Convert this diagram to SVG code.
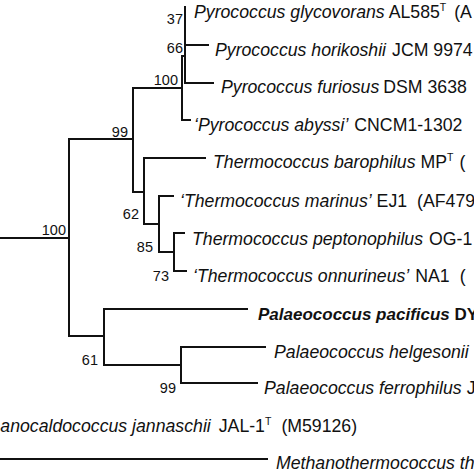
<svg xmlns="http://www.w3.org/2000/svg" width="474" height="474" viewBox="0 0 474 474">
<style>
.t{font-family:"Liberation Sans",Arial,sans-serif;font-size:17.7px;fill:#111}
.i{font-style:italic}
.b{font-weight:bold;font-size:17px}
.s{font-size:10.5px}
.n{font-family:"Liberation Sans",Arial,sans-serif;font-size:14.5px;fill:#111;text-anchor:end}
.e{stroke:#111;stroke-width:2;fill:none;stroke-linecap:square}
</style>
<rect width="474" height="474" fill="#fff"/>
<g id="connectors" class="e">
<path d="M0 238H69M69 139V336M69 139H133M133 88V192M133 88H182M182 56V120M182 56H185M185 7V83M185 45H208M185 83H213M182 120H190"/>
<path d="M133 192H144M144 158V224M144 158H205M144 224H159M159 196V252M159 196H173M159 252H174M174 233V271M174 233H184M174 271H186"/>
<path d="M69 336H104M104 309V365M104 309H247M104 365H181M181 347V383M181 347H265M181 383H257"/>
<path d="M0 459H267"/>
</g>
<g id="bootstrap">
<text class="n" x="183" y="24">37</text>
<text class="n" x="183" y="53">66</text>
<text class="n" x="178" y="85">100</text>
<text class="n" x="128" y="137">99</text>
<text class="n" x="139" y="219">62</text>
<text class="n" x="66" y="235">100</text>
<text class="n" x="153" y="252">85</text>
<text class="n" x="169" y="281">73</text>
<text class="n" x="98" y="365">61</text>
<text class="n" x="176" y="393">99</text>
</g>
<g id="n-glycovorans"><text class="t" x="194" y="18"><tspan class="i">Pyrococcus glycovorans</tspan> AL585<tspan class="s" dy="-7">T</tspan><tspan dx="8" dy="7">(A</tspan></text></g>
<g id="n-horikoshii"><text class="t" x="215" y="56"><tspan class="i">Pyrococcus horikoshii</tspan><tspan dx="6">JCM 9974</tspan></text></g>
<g id="n-furiosus"><text class="t" x="221" y="93"><tspan class="i">Pyrococcus furiosus</tspan><tspan dx="4">DSM 3638</tspan></text></g>
<g id="n-abyssi"><text class="t" x="194" y="131"><tspan class="i">‘Pyrococcus abyssi’</tspan><tspan dx="6">CNCM1-1302</tspan></text></g>
<g id="n-barophilus"><text class="t" x="213" y="168"><tspan class="i">Thermococcus barophilus</tspan><tspan dx="5">MP</tspan><tspan class="s" dy="-7">T</tspan><tspan dx="6" dy="7">(</tspan></text></g>
<g id="n-marinus"><text class="t" x="180" y="207"><tspan class="i">‘Thermococcus marinus’</tspan> EJ1<tspan dx="10">(AF479</tspan></text></g>
<g id="n-peptonophilus"><text class="t" x="192" y="245"><tspan class="i">Thermococcus peptonophilus</tspan><tspan dx="6">OG-1</tspan></text></g>
<g id="n-onnurineus"><text class="t" x="193" y="282"><tspan class="i">‘Thermococcus onnurineus’</tspan><tspan dx="6">NA1</tspan><tspan dx="10">(</tspan></text></g>
<g id="n-pacificus"><text class="t b" x="258" y="320"><tspan class="i">Palaeococcus pacificus</tspan> DY</text></g>
<g id="n-helgesonii"><text class="t" x="274" y="358"><tspan class="i">Palaeococcus helgesonii</tspan></text></g>
<g id="n-ferrophilus"><text class="t" x="264" y="394"><tspan class="i">Palaeococcus ferrophilus</tspan><tspan dx="5">J</tspan></text></g>
<g id="n-jannaschii"><text class="t" x="-39" y="432"><tspan class="i">Methanocaldococcus jannaschii</tspan><tspan dx="8">JAL-1</tspan><tspan class="s" dy="-7">T</tspan><tspan dx="10" dy="7">(M59126)</tspan></text></g>
<g id="n-methanothermococcus"><text class="t" x="276" y="469"><tspan class="i">Methanothermococcus th</tspan></text></g>
</svg>
